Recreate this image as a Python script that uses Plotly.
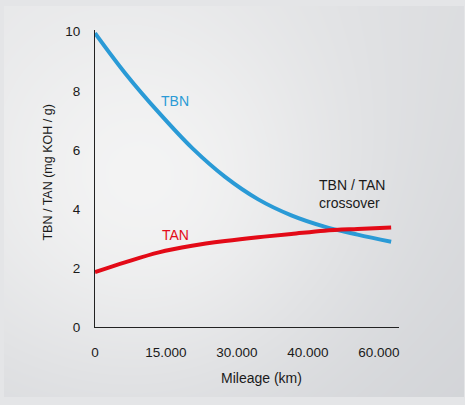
import numpy as np
import plotly.graph_objects as go

# values
mileage_km = [0, 6500, 13500, 20500, 27500, 34500, 41500, 48500, 55500, 62600]
tbn = [9.95, 8.57, 7.26, 6.07, 5.09, 4.33, 3.79, 3.41, 3.14, 2.90]
tan = [1.87, 2.21, 2.54, 2.76, 2.92, 3.05, 3.16, 3.27, 3.33, 3.38]

x_ticks = [0, 15000, 30000, 45000, 60000]
x_tick_labels = ["0", "15.000", "30.000", "40.000", "60.000"]
y_ticks = [0, 2, 4, 6, 8, 10]

W, H = 465, 405
FONT = "Liberation Sans, Arial, Helvetica, sans-serif"
BLUE = "#2a9ad6"
RED = "#e30a17"
INK = "#1a1a1a"


def px(x):
    return x / W


def py(y):
    return (H - y) / H


# soft grey backdrop, lighter towards the centre-left
gx = np.linspace(-10, W + 10, 34)
gy = np.linspace(-10, H + 10, 30)
X, Y = np.meshgrid(gx, gy)
fx, fy = X / W, Y / H
base = (226 * (1 - fx) * (1 - fy) + 219 * fx * (1 - fy)
        + 215 * (1 - fx) * fy + 210 * fx * fy)
glow = 24 * np.exp(-((X - 150) ** 2 + (Y - 200) ** 2) / (2 * 150 ** 2))
shade = base + glow

fig = go.Figure()

fig.add_trace(go.Heatmap(
    x=gx, y=gy, z=shade, zmin=205, zmax=245, zsmooth="best",
    colorscale=[[0, "rgb(205,207,211)"], [1, "rgb(245,245,245)"]],
    showscale=False, hoverinfo="skip", xaxis="x", yaxis="y"))

fig.add_trace(go.Scatter(
    x=mileage_km, y=tbn, mode="lines", name="TBN",
    line=dict(color=BLUE, width=4, shape="spline", smoothing=1.0),
    xaxis="x2", yaxis="y2"))
fig.add_trace(go.Scatter(
    x=mileage_km, y=tan, mode="lines", name="TAN",
    line=dict(color=RED, width=4, shape="spline", smoothing=1.0),
    xaxis="x2", yaxis="y2"))

fig.update_layout(
    width=W, height=H,
    margin=dict(l=0, r=0, t=0, b=0),
    paper_bgcolor="#e4e5e7",
    plot_bgcolor="rgba(0,0,0,0)",
    showlegend=False,
    font=dict(family=FONT, color=INK, size=14),
    xaxis=dict(domain=[0, 1], range=[0, W], visible=False, fixedrange=True),
    yaxis=dict(domain=[0, 1], range=[H, 0], visible=False, fixedrange=True),
    xaxis2=dict(
        domain=[px(92), px(399)], anchor="y2", range=[0, 64200],
        tickvals=x_ticks, ticktext=x_tick_labels, ticks="",
        ticklabelstandoff=12, tickfont=dict(size=13.5, color=INK),
        showline=True, linecolor="#222222", linewidth=1,
        showgrid=False, zeroline=False),
    yaxis2=dict(
        domain=[py(333), py(25)], anchor="x2", range=[0, 10.05],
        tickvals=y_ticks, ticks="",
        ticklabelstandoff=11, tickfont=dict(size=13.5, color=INK),
        showline=True, linecolor="#222222", linewidth=1,
        showgrid=False, zeroline=False),
)


def label(text, x, y, color=INK, size=14, **kw):
    opts = dict(xanchor="center", yanchor="middle")
    opts.update(kw)
    fig.add_annotation(text=text, x=px(x), y=py(y), xref="paper", yref="paper",
                       showarrow=False, font=dict(size=size, color=color), **opts)


label("Mileage (km)", 260, 385)
label("TBN / TAN (mg KOH / g)", 45, 173, size=12.5, textangle=-90)
label("TBN", 173, 98, color=BLUE)
label("TAN", 173, 237, color=RED)
label("TBN / TAN<br>crossover", 316, 195, xanchor="left", align="left")

# page body has a default margin, drop it so the figure fills the window
fig.write_html("out.html", config={"displayModeBar": False},
               post_script="document.body.style.margin='0';")
